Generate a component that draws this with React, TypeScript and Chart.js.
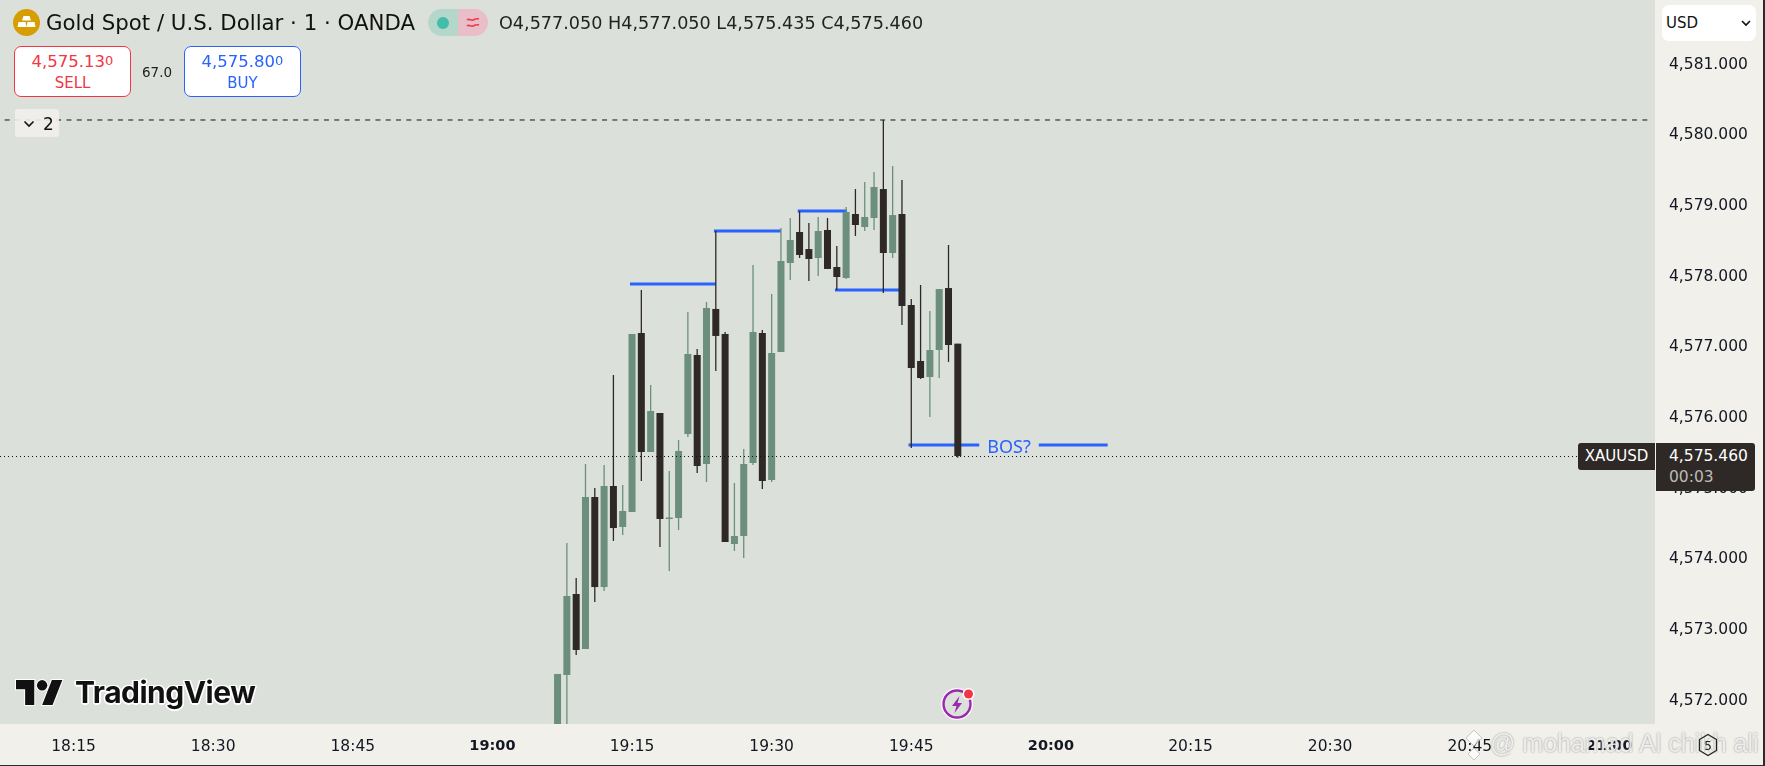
import React, { useEffect, useRef } from "react";
import { Chart, registerables } from "chart.js";

Chart.register(...registerables);

const BG = "#dbe0da";
const AXIS_BG = "#f1f0eb";
const UP = "#6b8f7c";
const DOWN = "#2e2926";
const BLUE = "#2962ff";
const RED = "#f23645";
const TEXT = "#131722";
const AXIS_FONT = "DejaVu Sans";
const UI_FONT = "'DejaVu Sans'";

const candleTimes = [
  "19:07","19:08","19:09","19:10","19:11","19:12","19:13","19:14","19:15","19:16","19:17",
  "19:18","19:19","19:20","19:21","19:22","19:23","19:24","19:25","19:26","19:27","19:28",
  "19:29","19:30","19:31","19:32","19:33","19:34","19:35","19:36","19:37","19:38","19:39",
  "19:40","19:41","19:42","19:43","19:44","19:45","19:46","19:47","19:48","19:49","19:50",
];
const opens = [
  4571.44,4572.361,4573.508,4572.729,4574.88,4573.606,4575.036,4574.456,4574.668,4577.201,4575.517,
  4576.069,4574.569,4574.583,4575.772,4576.89,4575.347,4577.541,4577.187,4574.215,4574.328,4575.361,
  4577.201,4575.121,4576.932,4578.191,4578.63,4578.389,4578.262,4578.658,4578.135,4577.979,4578.885,
  4578.701,4578.828,4579.238,4578.333,4578.885,4577.597,4576.805,4576.578,4576.96,4577.837,4577.05,
];
const highs = [
  4572.376,4574.229,4573.734,4575.347,4575.007,4575.333,4576.607,4575.05,4577.187,4577.809,4576.465,
  4576.069,4575.248,4575.687,4577.498,4576.975,4577.639,4578.644,4577.215,4575.078,4575.56,4578.163,
  4577.243,4577.753,4578.687,4578.828,4578.927,4578.757,4578.842,4578.828,4578.432,4578.984,4579.238,
  4579.338,4579.479,4580.215,4579.564,4579.366,4577.682,4577.88,4577.512,4577.823,4578.446,4577.05,
];
const lows = [
  4571.44,4571.3,4572.645,4572.729,4573.395,4573.55,4574.258,4574.342,4574.668,4575.107,4575.517,
  4574.173,4573.833,4574.413,4575.729,4575.22,4575.092,4576.663,4574.243,4574.116,4574.017,4575.333,
  4574.993,4575.092,4576.932,4577.951,4578.262,4577.937,4578.007,4578.107,4577.809,4577.965,4578.574,
  4578.644,4578.658,4577.767,4578.262,4577.314,4575.574,4576.55,4576.012,4576.564,4576.791,4575.435,
];
const closes = [
  4572.376,4573.479,4572.715,4574.88,4573.606,4575.036,4574.441,4574.682,4577.187,4575.517,4576.097,
  4574.569,4574.59,4575.531,4576.904,4575.319,4577.555,4577.159,4574.243,4574.328,4575.347,4577.215,
  4575.107,4576.918,4578.22,4578.517,4578.305,4578.248,4578.644,4578.107,4577.993,4578.913,4578.729,
  4578.842,4579.267,4578.333,4578.87,4577.583,4576.706,4576.564,4576.96,4577.823,4577.031,4575.46,
];

const priceTicks = [4572,4573,4574,4575,4576,4577,4578,4579,4580,4581];
const timeTicks = ["18:15","18:30","18:45","19:00","19:15","19:30","19:45","20:00","20:15","20:30","20:45","21:00"];
const boldTimes = ["19:00","20:00","21:00"];

const lastPriceLevel = 4575.453;
const highLevel = 4580.215;
const markerLines = [
  { from: 1154.78, to: 1164.0, price: 4577.894 },
  { from: 1163.8, to: 1171.0, price: 4578.644 },
  { from: 1172.8, to: 1178.1, price: 4578.927 },
  { from: 1176.8, to: 1183.7, price: 4577.809 },
  { from: 1184.7, to: 1192.3, price: 4575.616 },
  { from: 1198.7, to: 1206.1, price: 4575.616 },
];
const bosLabel = { text: "BOS?", time: 1195.5, price: 4575.616 };

const X_MIN = 1087.1;
const X_MAX = 1264.9;
const Y_MIN = 4571.668;
const Y_MAX = 4581.913;

const toMinutes = (t: string) => {
  const [h, m] = t.split(":").map(Number);
  return h * 60 + m;
};
const fromMinutes = (v: number) => {
  const h = Math.floor(v / 60);
  const m = Math.round(v - h * 60);
  return `${h}:${String(m).padStart(2, "0")}`;
};

const chromePlugin = {
  id: "chrome",
  beforeDraw(chart: any) {
    const { ctx, chartArea: a, width, height } = chart;
    ctx.save();
    ctx.fillStyle = AXIS_BG;
    ctx.fillRect(0, 0, width, height);
    ctx.fillStyle = BG;
    ctx.fillRect(a.left, a.top, a.right - a.left, a.bottom - a.top);
    ctx.restore();
  },
  afterDatasetsDraw(chart: any) {
    const { ctx, scales } = chart;
    ctx.save();
    ctx.fillStyle = BLUE;
    ctx.font = `18px 'Noto Sans'`;
    ctx.textAlign = "center";
    ctx.textBaseline = "middle";
    ctx.fillText(bosLabel.text, scales.x.getPixelForValue(bosLabel.time), scales.y.getPixelForValue(bosLabel.price) + 2.5);
    ctx.restore();
  },
};

const noPadding = (s: any) => {
  s.paddingTop = 0;
  s.paddingBottom = 0;
  s.paddingLeft = 0;
  s.paddingRight = 0;
};

const abs = (left: number, top: number, extra: React.CSSProperties = {}): React.CSSProperties => ({
  position: "absolute",
  left,
  top,
  whiteSpace: "nowrap",
  ...extra,
});

const Trade = ({ left, color, price, tail, label }: { left: number; color: string; price: string; tail: string; label: string }) => (
  <div style={abs(left, 46, { width: 117, height: 51, boxSizing: "border-box", border: `1px solid ${color}`, borderRadius: 7, background: "#fff", color, textAlign: "center", fontFamily: UI_FONT })}>
    <div style={{ fontSize: 16.5, lineHeight: "18px", marginTop: 5 }}>
      {price}
      <span style={{ fontSize: 13, verticalAlign: 2 }}>{tail}</span>
    </div>
    <div style={{ fontSize: 15, lineHeight: "18px", marginTop: 3 }}>{label}</div>
  </div>
);

export default function App() {
  const ref = useRef<HTMLCanvasElement | null>(null);

  useEffect(() => {
    document.body.style.margin = "0";
    document.documentElement.style.overflow = "hidden";
    const xs = candleTimes.map(toMinutes);
    const colors = opens.map((o, i) => (closes[i] >= o ? UP : DOWN));
    const chart = new Chart(ref.current as HTMLCanvasElement, {
      type: "bar",
      data: {
        datasets: [
          {
            label: "Last price",
            type: "line",
            data: [{ x: X_MIN, y: lastPriceLevel }, { x: 1256.6, y: lastPriceLevel }],
            borderColor: "#111",
            borderWidth: 1,
            borderDash: [1, 3],
            pointRadius: 0,
            order: 0,
          },
          {
            label: "Bodies",
            data: xs.map((x, i) => ({ x, y: [opens[i], closes[i]] })),
            backgroundColor: colors,
            barThickness: 7,
            grouped: false,
            borderWidth: 0,
            borderSkipped: false,
            inflateAmount: 0,
            order: 1,
          },
          {
            label: "Wicks",
            data: xs.map((x, i) => ({ x, y: [lows[i], highs[i]] })),
            backgroundColor: colors,
            barThickness: 1.3,
            grouped: false,
            borderWidth: 0,
            borderSkipped: false,
            inflateAmount: 0,
            order: 2,
          },
          ...markerLines.map((l, i) => ({
            label: `Marker ${i + 1}`,
            type: "line",
            data: [{ x: l.from, y: l.price }, { x: l.to, y: l.price }],
            borderColor: BLUE,
            borderWidth: 3,
            borderCapStyle: "butt",
            pointRadius: 0,
            order: 3,
          })),
          {
            label: "High level",
            type: "line",
            data: [{ x: X_MIN + 0.5, y: highLevel }, { x: 1264.5, y: highLevel }],
            borderColor: "#111",
            borderWidth: 1,
            borderDash: [5, 5.3],
            pointRadius: 0,
            order: 3,
          },
        ] as any,
      },
      options: {
        responsive: false,
        animation: false,
        devicePixelRatio: 1,
        layout: { padding: 0 },
        plugins: { legend: { display: false }, tooltip: { enabled: false } },
        scales: {
          x: {
            type: "linear",
            min: X_MIN,
            max: X_MAX,
            offset: false,
            grid: { display: false, drawTicks: false },
            border: { display: false },
            afterFit: (s: any) => { s.height = 42; noPadding(s); },
            afterBuildTicks: (s: any) => { s.ticks = timeTicks.map((t) => ({ value: toMinutes(t) })); },
            ticks: {
              autoSkip: false,
              maxRotation: 0,
              padding: 14,
              color: TEXT,
              callback: (v: any) => fromMinutes(Number(v)),
              font: (c: any) => {
                const strong = c.tick && boldTimes.includes(fromMinutes(c.tick.value));
                return { family: AXIS_FONT, size: strong ? 14.5 : 15.5, weight: strong ? "bold" : "normal" };
              },
            },
          },
          y: {
            type: "linear",
            position: "right",
            min: Y_MIN,
            max: Y_MAX,
            grid: { display: false, drawTicks: false },
            border: { display: false },
            afterFit: (s: any) => { s.width = 110; noPadding(s); },
            afterBuildTicks: (s: any) => { s.ticks = priceTicks.map((value) => ({ value })); },
            ticks: {
              padding: 14,
              color: TEXT,
              font: { family: AXIS_FONT, size: 15.5 },
              callback: (v: any) => Number(v).toLocaleString("en-US", { minimumFractionDigits: 3, maximumFractionDigits: 3 }),
            },
          },
        },
      } as any,
      plugins: [chromePlugin] as any,
    });
    return () => chart.destroy();
  }, []);

  const ring = "1.5px 0 0 #fff, -1.5px 0 0 #fff, 0 1.5px 0 #fff, 0 -1.5px 0 #fff, 1.2px 1.2px 0 #fff, -1.2px 1.2px 0 #fff, 1.2px -1.2px 0 #fff, -1.2px -1.2px 0 #fff";

  return (
    <div style={{ position: "fixed", left: 0, top: 0, width: 1765, height: 766, overflow: "hidden", background: AXIS_BG }}>
      <canvas ref={ref} width={1765} height={766} style={{ position: "absolute", left: 0, top: 0 }} />

      {/* Symbol header */}
      <svg style={abs(13, 9)} width={27} height={27} viewBox="0 0 27 27">
        <circle cx={13.5} cy={13.5} r={13.5} fill="#d69e00" />
        <path d="M10.5 7h6l1.5 4.5H9zM5.5 13h7l1 5H4.5zM14.5 13h7l1 5h-9z" fill="#fff" />
      </svg>
      <div style={abs(46, 8, { fontFamily: UI_FONT, fontSize: 21.3, lineHeight: "30px", color: "#111" })}>Gold Spot / U.S. Dollar · 1 · OANDA</div>
      <div style={abs(428, 9, { width: 60, height: 27, borderRadius: 14, overflow: "hidden", display: "flex" })}>
        <div style={{ width: 30, background: "#b5d6ca", position: "relative" }}>
          <div style={{ position: "absolute", left: 9, top: 7.5, width: 12, height: 12, borderRadius: 6, background: "#42bda8" }} />
        </div>
        <div style={{ width: 30, background: "#e8bfc9", position: "relative" }}>
          <svg style={{ position: "absolute", left: 8, top: 8 }} width={14} height={11} viewBox="0 0 14 11">
            <path d="M1 3c2-2 4 1 6 0s4-2 6-1M1 9c2-2 4 1 6 0s4-2 6-1" stroke={RED} strokeWidth={1.5} fill="none" />
          </svg>
        </div>
      </div>
      <div style={abs(499, 11, { fontFamily: UI_FONT, fontSize: 17.6, lineHeight: "24px", color: "#222" })}>
        O4,577.050 H4,577.050 L4,575.435 C4,575.460
      </div>

      {/* Trade buttons */}
      <Trade left={14} color={RED} price="4,575.13" tail="0" label="SELL" />
      <div style={abs(142, 63, { fontFamily: UI_FONT, fontSize: 13.5, lineHeight: "18px", color: "#222" })}>67.0</div>
      <Trade left={184} color={BLUE} price="4,575.80" tail="0" label="BUY" />

      {/* Indicator chip */}
      <div style={abs(15, 109, { width: 44, height: 28, background: "rgba(241,240,235,0.9)", borderRadius: 3 })} />
      <svg style={abs(23, 120)} width={12} height={8} viewBox="0 0 12 8">
        <path d="M1.5 1.5 6 6l4.5-4.5" stroke="#111" strokeWidth={1.6} fill="none" />
      </svg>
      <div style={abs(43, 113, { fontFamily: UI_FONT, fontSize: 17, lineHeight: "22px", color: "#111" })}>2</div>

      {/* Currency box */}
      <div style={abs(1662, 5, { width: 94, height: 36, background: "#fff", borderRadius: 7 })} />
      <div style={abs(1666, 12, { fontFamily: UI_FONT, fontSize: 15, lineHeight: "22px", color: "#111" })}>USD</div>
      <svg style={abs(1741, 20)} width={10} height={7} viewBox="0 0 10 7">
        <path d="M1 1l4 4 4-4" stroke="#111" strokeWidth={1.6} fill="none" />
      </svg>

      {/* Last price tags */}
      <div style={abs(1578, 443, { width: 77, height: 27, background: DOWN, borderRadius: "3px 0 0 3px", color: "#fff", fontFamily: UI_FONT, fontSize: 15, lineHeight: "27px", textAlign: "center" })}>XAUUSD</div>
      <div style={abs(1656, 443, { width: 99, height: 48, background: DOWN, borderRadius: "0 3px 3px 0" })} />
      <div style={abs(1669, 444, { color: "#fff", fontFamily: UI_FONT, fontSize: 15.5, lineHeight: "24px" })}>4,575.460</div>
      <div style={abs(1669, 466, { color: "#bdbab5", fontFamily: UI_FONT, fontSize: 15.5, lineHeight: "22px" })}>00:03</div>

      {/* TradingView mark */}
      <svg style={abs(16, 680, { overflow: "visible" })} width={47} height={25} viewBox="0 0 36 19">
        <g fill="#111" stroke="#fff" strokeWidth={1.5} style={{ paintOrder: "stroke" }}>
          <path d="M14 19H7V7H0V0h14z" />
          <path d="M28 19h-8L27.5 0h8z" />
          <circle cx={20} cy={4} r={4} />
        </g>
      </svg>
      <div style={abs(75, 674, { fontFamily: "Inter", fontWeight: 700, fontSize: 30, lineHeight: "36px", color: "#111", letterSpacing: -0.5, textShadow: ring })}>TradingView</div>

      {/* Bolt badge */}
      <svg style={abs(940, 687)} width={36} height={36} viewBox="0 0 36 36">
        <circle cx={17} cy={17} r={16} fill="#fff" />
        <circle cx={17} cy={17} r={13.5} fill={BG} stroke="#9c27b0" strokeWidth={2.4} />
        <path d="M19.5 9 12 19h4.5l-2 7 7.5-10h-4.5z" fill="#9c27b0" />
        <circle cx={28.5} cy={7} r={6} fill="#fff" />
        <circle cx={28.5} cy={7} r={4.5} fill={RED} />
      </svg>

      {/* Repost watermark */}
      <svg style={abs(1464, 728)} width={20} height={36} viewBox="0 0 20 36">
        <path d="M10 2 18 10 10 18 2 10zM10 20l6 6-6 6-6-6z" fill="rgba(255,255,255,0.75)" stroke="rgba(150,150,150,0.5)" />
      </svg>
      <div style={abs(1490, 727, { fontFamily: "Liberation Sans", fontSize: 25, lineHeight: "32px", color: "rgba(255,255,255,0.8)", textShadow: "0 0 2px rgba(90,90,90,0.7)" })}>@ mohamad Al chikh ali</div>
      <svg style={abs(1697, 733)} width={22} height={24} viewBox="0 0 22 24">
        <path d="M11 1.5 19.5 6.5v11L11 22.5 2.5 17.5v-11z" fill="none" stroke="#222" strokeWidth={1.3} />
        <text x={11} y={16.5} textAnchor="middle" fontSize={12} fontFamily={UI_FONT} fill="#222">5</text>
      </svg>

      {/* Screenshot frame */}
      <div style={abs(1763, 0, { width: 2, height: 766, background: "#2b2b2b" })} />
      <div style={abs(0, 765, { width: 1765, height: 1, background: "#2b2b2b" })} />
    </div>
  );
}
